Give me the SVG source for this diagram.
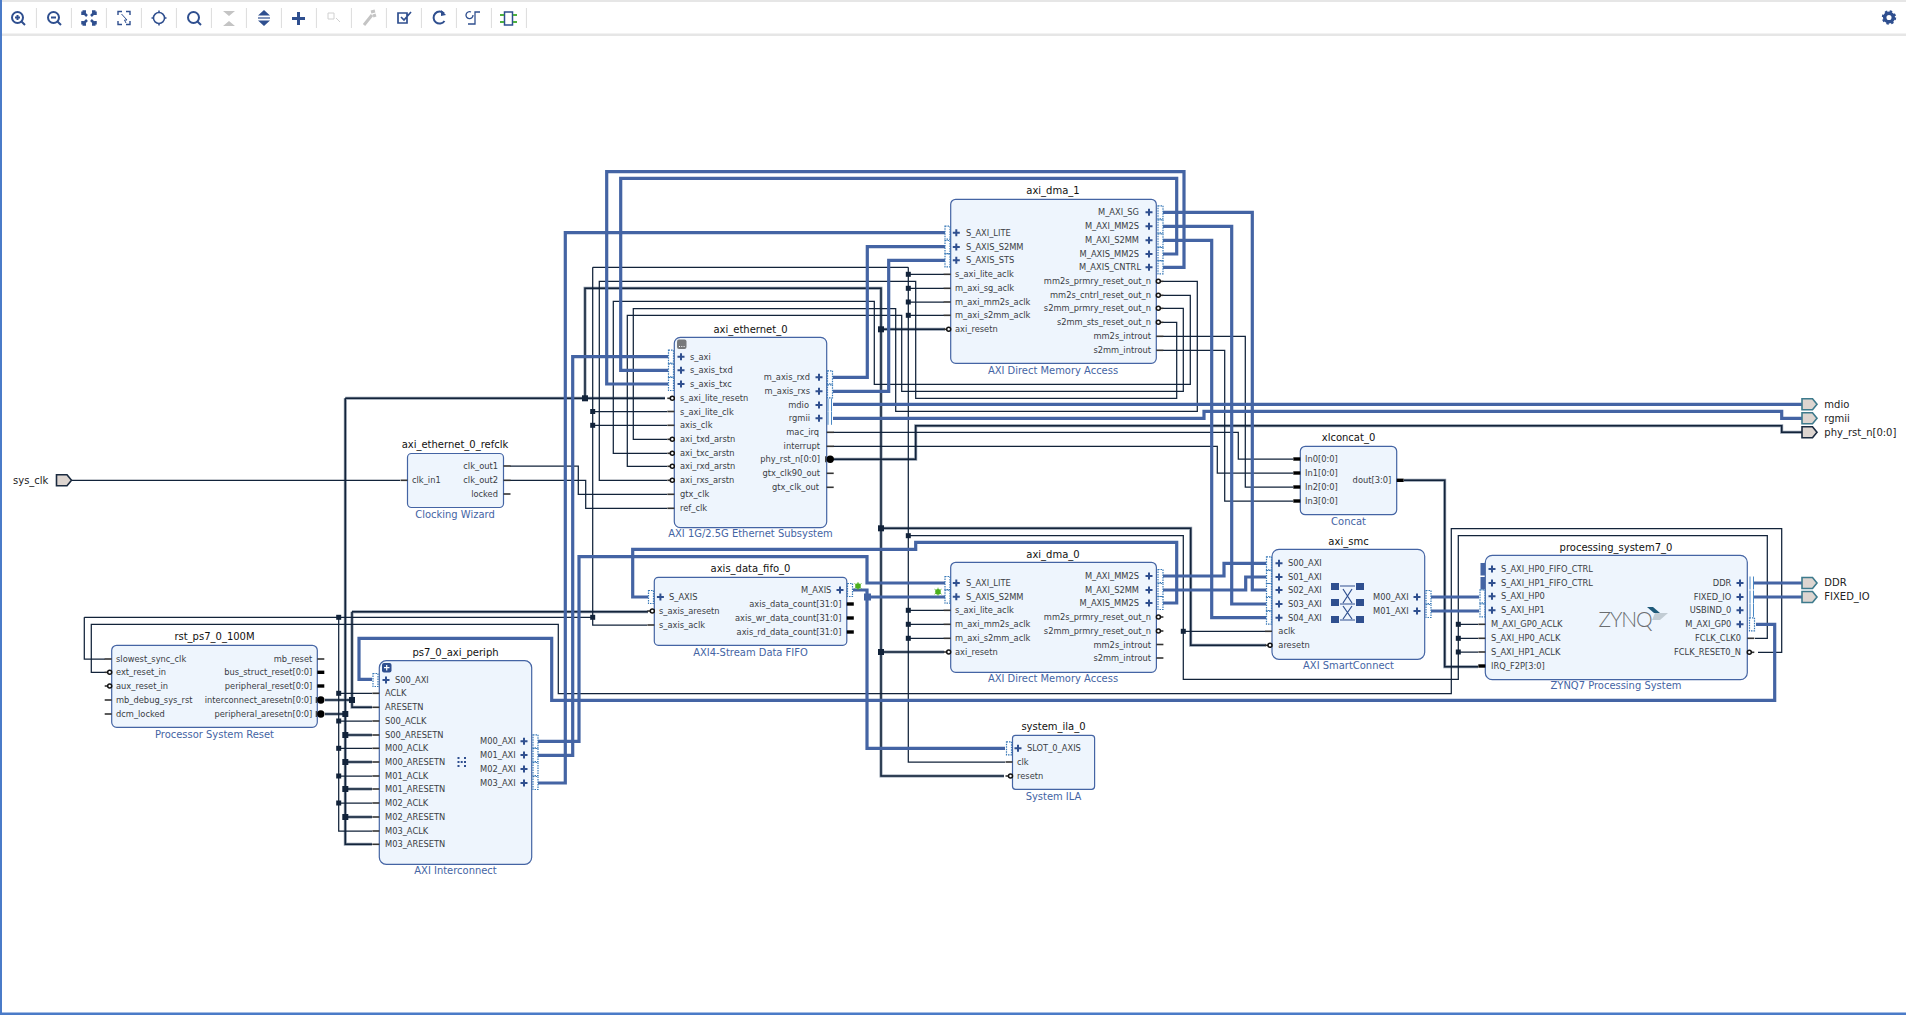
<svg xmlns="http://www.w3.org/2000/svg" width="1906" height="1015" viewBox="0 0 1906 1015">
<style>
text{font-family:"DejaVu Sans",sans-serif}
.t{font-size:8.3px;fill:#3a3d44}
.e{font-size:8.3px;fill:#3a3d44;text-anchor:end}
.n{font-size:10px;fill:#111;text-anchor:middle}
.l{font-size:9.95px;fill:#4464a4;text-anchor:middle}
.x{font-size:10px;fill:#222}
.box{fill:#eef5fd;stroke:#4464a4;stroke-width:1.2}
.b{fill:none;stroke:#4464a4;stroke-width:3.2}
.k{fill:none;stroke:#12233a;stroke-width:1.25}
.j{fill:#12233a}
.tb{fill:none;stroke:#2f4f8f;stroke-width:2}
.tg{fill:none;stroke:#c4c4c4;stroke-width:2}
.sep{stroke:#dcdcdc;stroke-width:1}
.port{fill:#ddd5d0;stroke-width:1.6}
</style>
<defs>
<path id="p" d="M-3.5,0H3.5M0,-3.5V3.5" stroke="#2f4f8f" stroke-width="2" fill="none"/>
<rect id="s" x="0" y="-6.5" width="5" height="13" fill="none" stroke="#3a7ab8" stroke-width="1.2" stroke-dasharray="1.5 1"/>
<path id="bb" d="M0,-6.5V6.5M3.5,-6.5V6.5" stroke="#4a88c4" stroke-width="1" fill="none"/>
<path id="sl" d="M-7,0H0" stroke="#333" stroke-width="1.6"/>
<path id="sr" d="M0,0H7" stroke="#333" stroke-width="1.6"/>
<path id="bl" d="M-7,0H0" stroke="#000" stroke-width="3.4"/>
<path id="br" d="M0,0H7" stroke="#000" stroke-width="3.4"/>
<g id="il"><path d="M-7,0H-3" stroke="#333" stroke-width="1.6"/><circle cx="-2" cy="0" r="2" fill="#fff" stroke="#111" stroke-width="1.5"/></g>
<g id="ir"><path d="M3,0H7" stroke="#333" stroke-width="1.6"/><circle cx="2" cy="0" r="2" fill="#fff" stroke="#111" stroke-width="1.5"/></g>
<g id="rb"><circle cx="3.5" cy="0" r="3.7" fill="#000"/><path d="M-1,-3V3" stroke="#333" stroke-width="1.2"/></g>
<rect id="j" x="-2.5" y="-2.5" width="5" height="5" class="j"/>
<rect id="J" x="-3" y="-3" width="6" height="6" class="j"/>
<path id="po" d="M0,-5.5H10.5L15,0L10.5,5.5H0Z"/>
<g id="hnets" fill="none">
<path d="M325,714H345.3M345.3,398.3V844.3H372M345.3,398.3H665M585,398.3V288.3H881V776H1004M881,329.3H945M881,528.3H1190.7V645.3H1266M881,652H944M345.3,735H372M345.3,762H372M345.3,789H372M345.3,817H372"/>
<path d="M325,700H352M352,611.7V707.3H372M352,611.7H648"/>
<path d="M833,459.3H915.7V425.7H1781.7V432.3H1802"/>
<path d="M1404,480.3H1444.7V666.7H1478"/>
</g>
<g id="bug"><circle cx="0" cy="0" r="2.8" fill="#4cb01c"/><path d="M-3.5,-2.5L3.5,2.5M-3.5,2.5L3.5,-2.5M0,-4V4" stroke="#4cb01c" stroke-width=".8"/></g>
</defs>
<rect width="1906" height="1015" fill="#fff"/>
<g id="toolbar">
<rect x="0" y="0" width="1906" height="2" fill="#e6e6e6"/>
<rect x="0" y="33.5" width="1906" height="2.5" fill="#e6e6e6"/>
<path class="sep" d="M36.4,8V28M71.4,8V28M106.4,8V28M141.4,8V28M176.4,8V28M211.4,8V28M246.4,8V28M281.4,8V28M316.4,8V28M351.4,8V28M386.4,8V28M421.4,8V28M456.4,8V28M491.4,8V28M526.4,8V28"/>
<g class="tb">
<circle cx="17.5" cy="17.5" r="5.5"/><path d="M15,17.5H20M17.5,15V20M21.5,21.5L25,25"/>
<circle cx="53.5" cy="17.5" r="5.5"/><path d="M51,17.5H56M57.5,21.5L61,25"/>
<path stroke-width="2.5" d="M83,12L87,16M95,12L91,16M83,24L87,20M95,24L91,20M82.5,11.5h3.5M82.5,11.5v3.5M95.5,11.5h-3.5M95.5,11.5v3.5M82.5,24.5h3.5M82.5,24.5v-3.5M95.5,24.5h-3.5M95.5,24.5v-3.5"/>
<path stroke-width="1.4" d="M118,15V11.5H122M126,11.5H130V15M118,21V24.5H122M126,24.5H130V21"/><path stroke-width="1" d="M121.5,14L127,20L124.500,20L126,23"/>
<circle cx="159" cy="18" r="5.500" stroke-width="1.500"/><path stroke-width="1.500" d="M159,10.500V13M159,23V25.500M151.500,18H154M164,18H166.500"/>
<circle cx="193.500" cy="17.500" r="5.500"/><path d="M197.500,21.500L201,25"/>
<path stroke="none" fill="#2f4f8f" d="M258,15.500L264,10L270,15.500ZM258,20.500L264,26L270,20.500Z"/><path stroke-width="1.200" d="M258,18H270"/>
<path stroke-width="3" d="M292,18.500H305M298.500,12V25"/>
<path stroke-width="1.700" d="M398,13H407V23H398ZM401,17L404,20L411,12"/>
<path d="M444,13.500A6,6 0 1 0 444.500,21"/><path stroke="none" fill="#2f4f8f" d="M441,10L446,15L441,16Z"/>
<path stroke-width="1.300" d="M468,24H475V12H480M471,12A3.500,3.500 0 1 0 473,15"/>
</g>
<g class="tg">
<path stroke="none" fill="#c4c4c4" d="M223,11H235L229,16ZM223,26H235L229,21Z"/>
<path stroke="#d0d0d0" stroke-width="1" d="M328,13h6v6h-6zM336,18l4,4"/>
<path stroke-width="3" d="M364,25L372,15M371,12l4,-1M373,16l3,-1"/>
</g>
<g><rect x="504.500" y="12" width="8" height="13" fill="none" stroke="#2f4f8f" stroke-width="1.500"/><path d="M500,15H504M500,22H504M513,15H517M513,22H517" stroke="#4cb040" stroke-width="2"/></g>
<circle cx="1889" cy="17.500" r="4.300" fill="none" stroke="#2f4f8f" stroke-width="3.500"/>
<circle cx="1889" cy="17.500" r="6.200" fill="none" stroke="#2f4f8f" stroke-width="2" stroke-dasharray="2.400 2.470"/>
</g>
<rect x="0" y="0" width="2" height="1015" fill="#4a7bc8"/>
<rect x="0" y="1012.500" width="1906" height="2.500" fill="#4a7bc8"/>

<g id="connectors">
<use href="#hnets" stroke="#8c98a8" stroke-width="3"/>
<use href="#hnets" stroke="#12233a" stroke-width="1.500"/>
<path class="k" d="M71,480.300H400"/>
<path class="k" d="M510,466H578.300V494.300H667"/>
<path class="k" d="M510,480.300H585.700V508.300H667"/>
<path class="k" d="M1755,638.300H1767.300V535.700H1458.300V679.300H1183.300V535.700H908.300"/>
<path class="k" d="M908.300,267.300V762H1005M592.700,267.300H908.300M592.700,267.300V625H647M84.300,617.300H592.700M84.300,617.300V659H105M338.700,617.300V831H372"/>
<path class="k" d="M338.700,693.300H372M338.700,721H372M338.700,748.300H372M338.700,776H372M338.700,803H372"/>
<path class="k" d="M592.700,411.500H667M592.700,425.300H667"/>
<path class="k" d="M908.300,274.300H944M908.300,288.300H944M908.300,302H944M908.300,315.300H944M908.300,610.300H944M908.300,624.300H944M908.300,638.300H944"/>
<path class="k" d="M1183.300,631.300H1265"/>
<path class="k" d="M1458.300,624.300H1478M1458.300,638.300H1478M1458.300,652H1478"/>
<path class="k" d="M1758,652.300H1781.700V528.700H1451.300V693.500H558.300V624.300H91.300V672.300H105"/>
<path class="k" d="M1163,281.300H1197.300V411.300H895.700V308.700H633.300V439.300H667"/>
<path class="k" d="M1163,295.300H1190.300V384.300H874.300V301.300H613.300V453.300H667"/>
<path class="k" d="M1163,308.300H1183.300V391.300H901.700V315.300H627.300V466.300H667"/>
<path class="k" d="M1163,322.300H1176.700V398.300H915.700V281.300H599.300V480.300H667"/>
<path class="k" d="M833,432.300H1238.300V459H1293"/>
<path class="k" d="M833,446.300H1217.300V473H1293"/>
<path class="k" d="M1163,336.300H1245.300V487H1293"/>
<path class="k" d="M1163,350.300H1224.700V501H1293"/>
<path class="b" d="M1163,267.300H1184V171.700H606.700V384H668"/>
<path class="b" d="M1163,254H1176.700V178.300H620.700V370.300H668"/>
<path class="b" d="M538,741.300H579V556.700H867V583H945"/>
<path class="b" d="M538,755.300H572.700V356.700H668"/>
<path class="b" d="M538,783H565.300V232.700H945"/>
<path class="b" d="M1756,624.300H1774.700V700.300H551.700V638.300H359V679.300H372"/>
<path class="b" d="M833,377.300H867.300V246.700H945"/>
<path class="b" d="M833,391.300H888.700V260.300H945"/>
<path class="b" d="M833,404.300H1802"/>
<path class="b" d="M833,418.300H1204V411.300H1781.700V418.300H1802"/>
<path class="b" d="M1163,212.300H1252.300V590H1266"/>
<path class="b" d="M1163,226.300H1231.700V604H1266"/>
<path class="b" d="M1163,240.300H1211.700V617.700H1266"/>
<path class="b" d="M1163,576H1224V563.300H1266"/>
<path class="b" d="M1163,590H1245.700V577H1266"/>
<path class="b" d="M1163,603H1176.700V542.300H915.700V549.300H632.700V597H648"/>
<path class="b" d="M853,590H867V748.300H1005M867,597H945"/>
<path class="b" d="M1431,597H1479M1431,611H1479"/>
<path class="b" d="M1754,583H1802M1754,597H1802"/>
<rect x="864" y="593.500" width="7" height="7" fill="#4464a4"/>
<use href="#J" x="345.300" y="714"/><use href="#J" x="345.300" y="735"/><use href="#J" x="345.300" y="762"/><use href="#J" x="345.300" y="789"/><use href="#J" x="345.300" y="817"/><use href="#J" x="352" y="700"/><use href="#J" x="585" y="398.300"/><use href="#J" x="881" y="329.300"/><use href="#J" x="881" y="528.300"/><use href="#J" x="881" y="652"/>
<use href="#j" x="338.700" y="617.300"/><use href="#j" x="338.700" y="693.300"/><use href="#j" x="338.700" y="721"/><use href="#j" x="338.700" y="748.300"/><use href="#j" x="338.700" y="776"/><use href="#j" x="338.700" y="803"/>
<use href="#j" x="592.700" y="411.500"/><use href="#j" x="592.700" y="425.300"/><use href="#j" x="592.700" y="617.300"/>
<use href="#j" x="908.300" y="274.300"/><use href="#j" x="908.300" y="288.300"/><use href="#j" x="908.300" y="302"/><use href="#j" x="908.300" y="315.300"/><use href="#j" x="908.300" y="535.700"/><use href="#j" x="908.300" y="610.300"/><use href="#j" x="908.300" y="624.300"/><use href="#j" x="908.300" y="638.300"/>
<use href="#j" x="1183.300" y="631.300"/><use href="#j" x="1458.300" y="624.300"/><use href="#j" x="1458.300" y="638.300"/><use href="#j" x="1458.300" y="652"/>
</g>

<g id="sys_clk"><use href="#po" x="56.500" y="480.300" class="port" stroke="#1b2b40"/><text class="x" x="13" y="483.500">sys_clk</text></g>
<g id="mdio"><use href="#po" x="1802" y="404.300" class="port" stroke="#3d7a8c"/><text class="x" x="1824.300" y="407.500">mdio</text></g>
<g id="rgmii"><use href="#po" x="1802" y="418.300" class="port" stroke="#3d7a8c"/><text class="x" x="1824.300" y="421.500">rgmii</text></g>
<g id="phy_rst_n"><use href="#po" x="1802" y="432.300" class="port" stroke="#1b2b40"/><text class="x" x="1824.300" y="435.500">phy_rst_n[0:0]</text></g>
<g id="DDR"><use href="#po" x="1802" y="583" class="port" stroke="#3d7a8c"/><text class="x" x="1824.300" y="586.200">DDR</text></g>
<g id="FIXED_IO"><use href="#po" x="1802" y="597" class="port" stroke="#3d7a8c"/><text class="x" x="1824.300" y="600.200">FIXED_IO</text></g>

<g id="axi_ethernet_0_refclk">
<rect class="box" x="407.500" y="453.500" width="96" height="54" rx="4"/>
<text class="n" x="455" y="448">axi_ethernet_0_refclk</text><text class="l" x="455" y="518">Clocking Wizard</text>
<use href="#sl" x="407.500" y="480.300"/><use href="#sr" x="503.500" y="466"/><use href="#sr" x="503.500" y="480.300"/><use href="#sr" x="503.500" y="494"/>
<text class="t" x="412" y="483.300">clk_in1</text><text class="e" x="498" y="469">clk_out1</text><text class="e" x="498" y="483.300">clk_out2</text><text class="e" x="498" y="497">locked</text>
</g>

<g id="axi_ethernet_0">
<rect class="box" x="674.300" y="337.300" width="152.400" height="190.400" rx="6"/>
<text class="n" x="750.500" y="332.500">axi_ethernet_0</text><text class="l" x="750.500" y="537">AXI 1G/2.5G Ethernet Subsystem</text>
<rect x="677" y="339.500" width="9.500" height="9.500" rx="2" fill="#77797c"/><path d="M679,346.500h1M681.300,346.500h1M683.600,346.500h1" stroke="#fff" stroke-width="1"/>
<use href="#s" x="668.500" y="356.700"/><use href="#s" x="668.500" y="370.300"/><use href="#s" x="668.500" y="384"/>
<use href="#p" x="681" y="356.700"/><use href="#p" x="681" y="370.300"/><use href="#p" x="681" y="384"/>
<use href="#il" x="674.300" y="398.300"/><use href="#sl" x="674.300" y="411.500"/><use href="#sl" x="674.300" y="425.300"/><use href="#il" x="674.300" y="439.300"/><use href="#il" x="674.300" y="453.300"/><use href="#il" x="674.300" y="466.300"/><use href="#il" x="674.300" y="480.300"/><use href="#sl" x="674.300" y="494.300"/><use href="#sl" x="674.300" y="508.300"/>
<text class="t" x="690" y="359.800">s_axi</text><text class="t" x="690" y="373.400">s_axis_txd</text><text class="t" x="690" y="387">s_axis_txc</text>
<text class="t" x="680" y="401.300">s_axi_lite_resetn</text><text class="t" x="680" y="414.500">s_axi_lite_clk</text><text class="t" x="680" y="428.300">axis_clk</text><text class="t" x="680" y="442.300">axi_txd_arstn</text><text class="t" x="680" y="456.300">axi_txc_arstn</text><text class="t" x="680" y="469.300">axi_rxd_arstn</text><text class="t" x="680" y="483.300">axi_rxs_arstn</text><text class="t" x="680" y="497.300">gtx_clk</text><text class="t" x="680" y="511.300">ref_clk</text>
<use href="#p" x="819" y="377.300"/><use href="#p" x="819" y="391.300"/><use href="#p" x="819" y="405"/><use href="#p" x="819" y="418.300"/>
<use href="#s" x="827.500" y="377.300"/><use href="#s" x="827.500" y="391.300"/><use href="#bb" x="828" y="405"/><use href="#bb" x="828" y="418.300"/>
<use href="#sr" x="826.700" y="432.300"/><use href="#sr" x="826.700" y="446.300"/><use href="#rb" x="826.700" y="459.300"/><use href="#sr" x="826.700" y="473.300"/><use href="#sr" x="826.700" y="487.300"/>
<text class="e" x="810" y="380.300">m_axis_rxd</text><text class="e" x="810" y="394.300">m_axis_rxs</text><text class="e" x="809" y="408">mdio</text><text class="e" x="810" y="421.300">rgmii</text><text class="e" x="819" y="435.300">mac_irq</text><text class="e" x="820" y="449.300">interrupt</text><text class="e" x="820" y="462.300">phy_rst_n[0:0]</text><text class="e" x="820" y="476.300">gtx_clk90_out</text><text class="e" x="819" y="490.300">gtx_clk_out</text>
</g>

<g id="axi_dma_1">
<rect class="box" x="950.700" y="199.300" width="205.600" height="164" rx="5"/>
<text class="n" x="1053" y="194">axi_dma_1</text><text class="l" x="1053" y="373.500">AXI Direct Memory Access</text>
<use href="#s" x="945" y="232.700"/><use href="#s" x="945" y="247"/><use href="#s" x="945" y="260.300"/>
<use href="#p" x="956.300" y="232.700"/><use href="#p" x="956.300" y="247"/><use href="#p" x="956.300" y="260.300"/>
<use href="#sl" x="950.700" y="274.300"/><use href="#sl" x="950.700" y="288.300"/><use href="#sl" x="950.700" y="302"/><use href="#sl" x="950.700" y="315.300"/><use href="#il" x="950.700" y="329.300"/>
<text class="t" x="966" y="235.800">S_AXI_LITE</text><text class="t" x="966" y="250">S_AXIS_S2MM</text><text class="t" x="966" y="263.400">S_AXIS_STS</text>
<text class="t" x="955" y="277.300">s_axi_lite_aclk</text><text class="t" x="955" y="291.300">m_axi_sg_aclk</text><text class="t" x="955" y="305">m_axi_mm2s_aclk</text><text class="t" x="955" y="318.300">m_axi_s2mm_aclk</text><text class="t" x="955" y="332.300">axi_resetn</text>
<use href="#p" x="1149" y="212.300"/><use href="#p" x="1149" y="226.300"/><use href="#p" x="1149" y="240.300"/><use href="#p" x="1149" y="254"/><use href="#p" x="1149" y="267.300"/>
<use href="#s" x="1158" y="212.300"/><use href="#s" x="1158" y="226.300"/><use href="#s" x="1158" y="240.300"/><use href="#s" x="1158" y="254"/><use href="#s" x="1158" y="267.300"/>
<use href="#ir" x="1156.300" y="281.300"/><use href="#ir" x="1156.300" y="295.300"/><use href="#ir" x="1156.300" y="308.300"/><use href="#ir" x="1156.300" y="322.300"/><use href="#sr" x="1156.300" y="336.300"/><use href="#sr" x="1156.300" y="350.300"/>
<text class="e" x="1139" y="215.300">M_AXI_SG</text><text class="e" x="1139" y="229.300">M_AXI_MM2S</text><text class="e" x="1139" y="243.300">M_AXI_S2MM</text><text class="e" x="1139" y="257">M_AXIS_MM2S</text><text class="e" x="1141" y="270.300">M_AXIS_CNTRL</text>
<text class="e" x="1151" y="284.300">mm2s_prmry_reset_out_n</text><text class="e" x="1151" y="298.300">mm2s_cntrl_reset_out_n</text><text class="e" x="1151" y="311.300">s2mm_prmry_reset_out_n</text><text class="e" x="1151" y="325.300">s2mm_sts_reset_out_n</text><text class="e" x="1151" y="339.300">mm2s_introut</text><text class="e" x="1151" y="353.300">s2mm_introut</text>
</g>

<g id="axi_dma_0">
<rect class="box" x="950.700" y="562.300" width="205.700" height="110" rx="5"/>
<text class="n" x="1053" y="557.500">axi_dma_0</text><text class="l" x="1053" y="682">AXI Direct Memory Access</text>
<use href="#s" x="945" y="583"/><use href="#s" x="945" y="596.700"/>
<use href="#p" x="956.300" y="583"/><use href="#p" x="956.300" y="596.700"/>
<use href="#sl" x="950.700" y="610.300"/><use href="#sl" x="950.700" y="624.300"/><use href="#sl" x="950.700" y="638.300"/><use href="#il" x="950.700" y="652"/>
<text class="t" x="966" y="586">S_AXI_LITE</text><text class="t" x="966" y="599.700">S_AXIS_S2MM</text><text class="t" x="955" y="613.300">s_axi_lite_aclk</text><text class="t" x="955" y="627.300">m_axi_mm2s_aclk</text><text class="t" x="955" y="641.300">m_axi_s2mm_aclk</text><text class="t" x="955" y="655">axi_resetn</text>
<use href="#p" x="1149" y="576"/><use href="#p" x="1149" y="590"/><use href="#p" x="1149" y="603"/>
<use href="#s" x="1158" y="576"/><use href="#s" x="1158" y="590"/><use href="#s" x="1158" y="603"/>
<use href="#ir" x="1156.400" y="617"/><use href="#ir" x="1156.400" y="631"/><use href="#sr" x="1156.400" y="644.500"/><use href="#sr" x="1156.400" y="658"/>
<text class="e" x="1139" y="579">M_AXI_MM2S</text><text class="e" x="1139" y="593">M_AXI_S2MM</text><text class="e" x="1139" y="606">M_AXIS_MM2S</text><text class="e" x="1151" y="620">mm2s_prmry_reset_out_n</text><text class="e" x="1151" y="634">s2mm_prmry_reset_out_n</text><text class="e" x="1151" y="647.500">mm2s_introut</text><text class="e" x="1151" y="661">s2mm_introut</text>
<use href="#bug" x="938" y="591.700"/>
</g>

<g id="axis_data_fifo_0">
<rect class="box" x="654.300" y="577.300" width="192.500" height="68" rx="4"/>
<text class="n" x="750.500" y="572">axis_data_fifo_0</text><text class="l" x="750.500" y="655.500">AXI4-Stream Data FIFO</text>
<use href="#s" x="648.500" y="597"/><use href="#p" x="660.400" y="597"/>
<use href="#il" x="654.300" y="611"/><use href="#sl" x="654.300" y="625"/>
<text class="t" x="669" y="600">S_AXIS</text><text class="t" x="659" y="614">s_axis_aresetn</text><text class="t" x="659" y="628">s_axis_aclk</text>
<use href="#p" x="840" y="590"/><use href="#s" x="847.500" y="590"/>
<use href="#br" x="846.800" y="604"/><use href="#br" x="846.800" y="618"/><use href="#br" x="846.800" y="632"/>
<text class="e" x="831.400" y="593">M_AXIS</text><text class="e" x="841.400" y="607">axis_data_count[31:0]</text><text class="e" x="841.400" y="621">axis_wr_data_count[31:0]</text><text class="e" x="841.400" y="635">axis_rd_data_count[31:0]</text>
<use href="#bug" x="858" y="586"/>
</g>

<g id="system_ila_0">
<rect class="box" x="1012.500" y="735.300" width="82.100" height="54" rx="3"/>
<text class="n" x="1053.500" y="730">system_ila_0</text><text class="l" x="1053.500" y="800">System ILA</text>
<use href="#s" x="1006.500" y="748.300"/><use href="#p" x="1018" y="748.300"/>
<use href="#sl" x="1012.500" y="762"/><use href="#il" x="1012.500" y="776"/>
<text class="t" x="1027" y="751.300">SLOT_0_AXIS</text><text class="t" x="1017" y="765">clk</text><text class="t" x="1017" y="779">resetn</text>
</g>

<g id="xlconcat_0">
<rect class="box" x="1300.300" y="446.300" width="96.400" height="68.400" rx="5"/>
<text class="n" x="1348.500" y="441">xlconcat_0</text><text class="l" x="1348.500" y="524.500">Concat</text>
<use href="#bl" x="1300.300" y="459"/><use href="#bl" x="1300.300" y="473"/><use href="#bl" x="1300.300" y="487"/><use href="#bl" x="1300.300" y="501"/><use href="#br" x="1396.700" y="480.300"/>
<text class="t" x="1305" y="462">In0[0:0]</text><text class="t" x="1305" y="476">In1[0:0]</text><text class="t" x="1305" y="490">In2[0:0]</text><text class="t" x="1305" y="504">In3[0:0]</text><text class="e" x="1391.300" y="483.300">dout[3:0]</text>
</g>

<g id="axi_smc">
<rect class="box" x="1272" y="549.300" width="152.700" height="110" rx="7"/>
<text class="n" x="1348.500" y="544.500">axi_smc</text><text class="l" x="1348.500" y="669">AXI SmartConnect</text>
<use href="#s" x="1266.500" y="563.300"/><use href="#s" x="1266.500" y="577"/><use href="#s" x="1266.500" y="590"/><use href="#s" x="1266.500" y="604"/><use href="#s" x="1266.500" y="617.700"/>
<use href="#p" x="1279" y="563.300"/><use href="#p" x="1279" y="577"/><use href="#p" x="1279" y="590"/><use href="#p" x="1279" y="604"/><use href="#p" x="1279" y="617.700"/>
<use href="#sl" x="1272" y="631.300"/><use href="#il" x="1272" y="645.300"/>
<text class="t" x="1288" y="566.300">S00_AXI</text><text class="t" x="1288" y="580">S01_AXI</text><text class="t" x="1288" y="593">S02_AXI</text><text class="t" x="1288" y="607">S03_AXI</text><text class="t" x="1288" y="620.700">S04_AXI</text><text class="t" x="1278.300" y="634.300">aclk</text><text class="t" x="1278.300" y="648.300">aresetn</text>
<use href="#p" x="1417" y="597"/><use href="#p" x="1417" y="611"/><use href="#s" x="1426" y="597"/><use href="#s" x="1426" y="611"/>
<text class="e" x="1408.700" y="600">M00_AXI</text><text class="e" x="1408.700" y="614">M01_AXI</text>
<g fill="#2f4f8f"><rect x="1331" y="583" width="8" height="7"/><rect x="1331" y="599" width="8" height="7"/><rect x="1331" y="616" width="8" height="7"/><rect x="1356" y="583" width="8" height="7"/><rect x="1356" y="599" width="8" height="7"/><rect x="1356" y="616" width="8" height="7"/></g>
<path d="M1340,586H1355M1343,589L1352,603M1352,589L1343,603M1340,604H1355M1343,606L1352,619M1352,606L1343,619M1340,620H1355" stroke="#2f4f8f" stroke-width="1.200" fill="none"/>
</g>

<g id="processing_system7_0">
<rect class="box" x="1485.300" y="555.300" width="262" height="124.400" rx="7"/>
<text class="n" x="1616" y="550.500">processing_system7_0</text><text class="l" x="1616" y="689">ZYNQ7 Processing System</text>
<rect x="1480.500" y="563" width="4.500" height="12.500" fill="#4464a4"/><rect x="1480.500" y="577" width="4.500" height="12.500" fill="#4464a4"/>
<use href="#s" x="1480" y="596.300"/><use href="#s" x="1480" y="610.300"/>
<use href="#p" x="1492" y="569"/><use href="#p" x="1492" y="583"/><use href="#p" x="1492" y="596.300"/><use href="#p" x="1492" y="610.300"/>
<use href="#sl" x="1485.300" y="624.300"/><use href="#sl" x="1485.300" y="638.300"/><use href="#sl" x="1485.300" y="652"/><use href="#bl" x="1485.300" y="666"/>
<text class="t" x="1501" y="572">S_AXI_HP0_FIFO_CTRL</text><text class="t" x="1501" y="586">S_AXI_HP1_FIFO_CTRL</text><text class="t" x="1501" y="599.300">S_AXI_HP0</text><text class="t" x="1501" y="613.300">S_AXI_HP1</text><text class="t" x="1491" y="627.300">M_AXI_GP0_ACLK</text><text class="t" x="1491" y="641.300">S_AXI_HP0_ACLK</text><text class="t" x="1491" y="654.500">S_AXI_HP1_ACLK</text><text class="t" x="1491" y="668.500">IRQ_F2P[3:0]</text>
<use href="#p" x="1740" y="583"/><use href="#p" x="1740" y="597"/><use href="#p" x="1740" y="610.300"/><use href="#p" x="1740" y="624.300"/>
<use href="#bb" x="1750" y="583"/><use href="#bb" x="1750" y="597"/><use href="#bb" x="1750" y="610.300"/><use href="#s" x="1749.500" y="624.300"/>
<use href="#sr" x="1747.300" y="638.300"/><use href="#ir" x="1747.300" y="652.300"/>
<text class="e" x="1731.300" y="586">DDR</text><text class="e" x="1731.300" y="600">FIXED_IO</text><text class="e" x="1731.300" y="613.300">USBIND_0</text><text class="e" x="1731.300" y="627.300">M_AXI_GP0</text><text class="e" x="1741" y="641.300">FCLK_CLK0</text><text class="e" x="1741" y="655">FCLK_RESET0_N</text>
<text x="1598.500" y="627" font-size="21" textLength="54" style="font-family:Lato,sans-serif;font-weight:300;fill:#6a6d70">ZYNQ</text>
<path d="M1647,607H1653L1660,613H1654Z" fill="#1f5a7a"/><path d="M1655,613H1668L1660,620H1652Z" fill="#c2ccd4"/>
</g>

<g id="rst_ps7_0_100M">
<rect class="box" x="111.700" y="645.300" width="205.600" height="82" rx="5"/>
<text class="n" x="214.500" y="640">rst_ps7_0_100M</text><text class="l" x="214.500" y="737.500">Processor System Reset</text>
<use href="#sl" x="111.700" y="659"/><use href="#il" x="111.700" y="672.300"/><use href="#il" x="111.700" y="686"/><use href="#sl" x="111.700" y="700"/><use href="#sl" x="111.700" y="714"/>
<text class="t" x="116" y="662">slowest_sync_clk</text><text class="t" x="116" y="675.300">ext_reset_in</text><text class="t" x="116" y="689">aux_reset_in</text><text class="t" x="116" y="703">mb_debug_sys_rst</text><text class="t" x="116" y="716.500">dcm_locked</text>
<use href="#sr" x="317.300" y="659"/><use href="#br" x="317.300" y="672.300"/><use href="#br" x="317.300" y="686"/><use href="#rb" x="317.300" y="700"/><use href="#rb" x="317.300" y="714"/>
<text class="e" x="312.300" y="662">mb_reset</text><text class="e" x="312.300" y="675.300">bus_struct_reset[0:0]</text><text class="e" x="312.300" y="689">peripheral_reset[0:0]</text><text class="e" x="312.300" y="703">interconnect_aresetn[0:0]</text><text class="e" x="312.300" y="716.500">peripheral_aresetn[0:0]</text>
</g>

<g id="ps7_0_axi_periph">
<rect class="box" x="379.300" y="660.700" width="152.400" height="203.600" rx="7"/>
<text class="n" x="455.500" y="655.500">ps7_0_axi_periph</text><text class="l" x="455.500" y="873.500">AXI Interconnect</text>
<rect x="382" y="663" width="9.500" height="9.500" rx="2" fill="#2f4f8f"/><path d="M384,667.700h5.500M386.700,665v5.500" stroke="#fff" stroke-width="1.200"/>
<use href="#s" x="373" y="680"/><use href="#p" x="386" y="680"/>
<use href="#sl" x="379.300" y="693.300"/><use href="#sl" x="379.300" y="707.300"/><use href="#sl" x="379.300" y="721"/><use href="#sl" x="379.300" y="735"/><use href="#sl" x="379.300" y="748.300"/><use href="#sl" x="379.300" y="762"/><use href="#sl" x="379.300" y="776"/><use href="#sl" x="379.300" y="789"/><use href="#sl" x="379.300" y="803"/><use href="#sl" x="379.300" y="817"/><use href="#sl" x="379.300" y="831"/><use href="#sl" x="379.300" y="844.300"/>
<text class="t" x="395" y="683">S00_AXI</text><text class="t" x="385" y="696.300">ACLK</text><text class="t" x="385" y="710.300">ARESETN</text><text class="t" x="385" y="724">S00_ACLK</text><text class="t" x="385" y="738">S00_ARESETN</text><text class="t" x="385" y="751.300">M00_ACLK</text><text class="t" x="385" y="765">M00_ARESETN</text><text class="t" x="385" y="779">M01_ACLK</text><text class="t" x="385" y="792">M01_ARESETN</text><text class="t" x="385" y="806">M02_ACLK</text><text class="t" x="385" y="820">M02_ARESETN</text><text class="t" x="385" y="834">M03_ACLK</text><text class="t" x="385" y="847.300">M03_ARESETN</text>
<use href="#p" x="524" y="741.300"/><use href="#p" x="524" y="755"/><use href="#p" x="524" y="769"/><use href="#p" x="524" y="783"/>
<use href="#s" x="533" y="741.300"/><use href="#s" x="533" y="755"/><use href="#s" x="533" y="769"/><use href="#s" x="533" y="783"/>
<text class="e" x="515.700" y="744.300">M00_AXI</text><text class="e" x="515.700" y="758">M01_AXI</text><text class="e" x="515.700" y="772">M02_AXI</text><text class="e" x="515.700" y="786">M03_AXI</text>
<path d="M457.500,758h2M464,758h2M457.500,762h2M460.700,762h2M464,762h2M457.500,766h2M464,766h2" stroke="#2f4f8f" stroke-width="1.800"/>
</g>
</svg>
